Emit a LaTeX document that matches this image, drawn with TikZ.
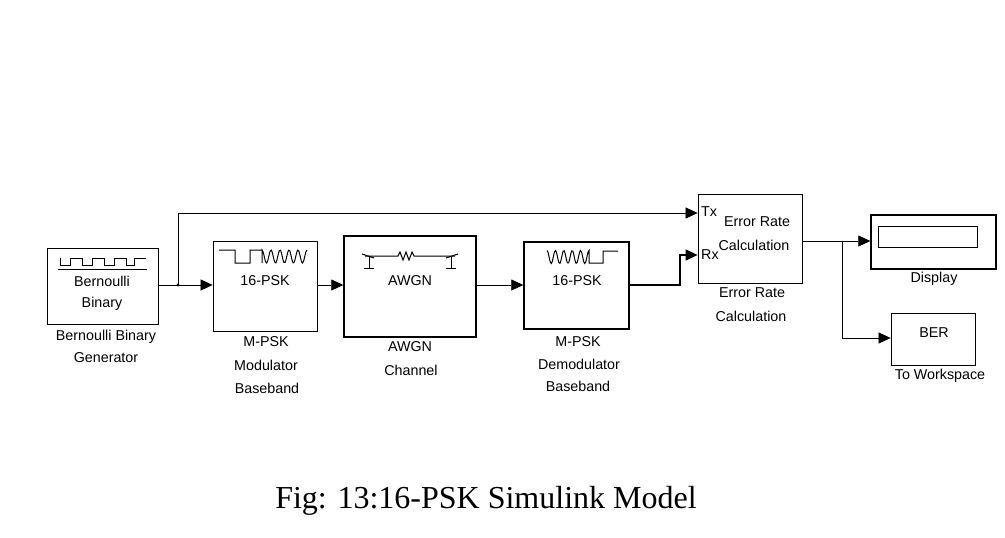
\documentclass[tikz,border=0pt]{standalone}
\usepackage{fontspec}
\setmainfont{Liberation Sans}
\newfontfamily\capfont{Liberation Serif}
\usetikzlibrary{arrows.meta}
\begin{document}
\begin{tikzpicture}[x=1pt,y=-1pt,
  blk/.style={draw,line width=0.8pt,inner sep=0pt},
  thk/.style={draw,line width=1.4pt,inner sep=0pt},
  txt/.style={font=\fontsize{14.3}{16}\selectfont,inner sep=0pt},
  con/.style={line width=0.7pt,-{Triangle[length=12pt,width=11pt]}},
  icon/.style={line width=1pt}]
\useasboundingbox (0,0) rectangle (1005,538);
\fill[white] (0,0) rectangle (1005,538);
% blocks
\node[blk,minimum width=111pt,minimum height=76pt] (bern) at (102.5,286) {};
\node[blk,minimum width=104pt,minimum height=90pt] (mod) at (265,286) {};
\node[thk,minimum width=132pt,minimum height=101pt] (awgn) at (410,286.5) {};
\node[thk,minimum width=105pt,minimum height=87pt] (dem) at (576.5,285.5) {};
\node[blk,minimum width=104pt,minimum height=89pt] (err) at (750,238.5) {};
\node[thk,minimum width=125pt,minimum height=54pt] (disp) at (933.5,242) {};
\node[blk,minimum width=99pt,minimum height=21pt] (dispin) at (927.5,236.5) {};
\node[blk,minimum width=84pt,minimum height=52pt] (ber) at (933,339) {};
% block texts
\node[txt] (t1) at (102,281) {Bernoulli};
\node[txt] (t2) at (102,304) {Binary};
\node[txt] (t3) at (106,337) {Bernoulli Binary};
\node[txt] (t4) at (106,358) {Generator};
\node[txt] (t5) at (265,281) {16-PSK};
\node[txt] (t6) at (266,342) {M-PSK};
\node[txt] (t7) at (266,365) {Modulator};
\node[txt] (t8) at (267,388) {Baseband};
\node[txt] (t9) at (410,281) {AWGN};
\node[txt] (t10) at (410,347) {AWGN};
\node[txt] (t11) at (411,370) {Channel};
\node[txt] (t12) at (577,281) {16-PSK};
\node[txt] (t13) at (578,342) {M-PSK};
\node[txt] (t14) at (579,364) {Demodulator};
\node[txt] (t15) at (578,386) {Baseband};
\node[txt,anchor=west] (tx) at (701,212) {Tx};
\node[txt,anchor=west] (rx) at (701,255) {Rx};
\node[txt] (t16) at (757,222) {Error Rate};
\node[txt] (t17) at (754,245) {Calculation};
\node[txt] (t18) at (752,293) {Error Rate};
\node[txt] (t19) at (751,316) {Calculation};
\node[txt] (t20) at (934,279) {Display};
\node[txt] (t21) at (934,333) {BER};
\node[txt] (t22) at (940,376) {To Workspace};
\node[inner sep=0pt,font=\capfont\fontsize{32}{36}\selectfont] (cap) at (486,501) {Fig: 13:16-PSK Simulink Model};
% icons
\draw[icon] (58,269) -- (147,269);
\draw[icon] (60,258) -- (60,265) -- (70,265) -- (70,258) -- (82,258) -- (82,265) -- (92,265) -- (92,258) -- (104,258) -- (104,265) -- (114,265) -- (114,258) -- (126,258) -- (126,265) -- (134,265) -- (134,258) -- (146,258);
\draw[icon] (219,250) -- (235,250) -- (235,263) -- (250,263) -- (250,250) -- (262,250) -- (262,263)
  -- plot[domain=0:5,samples=40,smooth] ({262+\x*9}, {256.5-6.5*cos(\x*360)});
\draw[icon] (365,256) -- (398,256) -- (400,252) -- (403,260) -- (406,252) -- (409,260) -- (412,252) -- (414,256) -- (455,256);
\draw[icon] (362,254) -- (374,258); \draw[icon] (369,257) -- (369,268); \draw[icon] (364,268) -- (374,268);
\draw[icon] (458,254) -- (446,258); \draw[icon] (451,257) -- (451,268); \draw[icon] (446,268) -- (456,268);
\draw[icon] plot[domain=0:5,samples=40,smooth] ({547+\x*8.4}, {257-6.5*cos(\x*360)}) -- (589,251) -- (589,263) -- (603,263) -- (603,251) -- (618,251);
% connectors
\coordinate (b1) at (178,285);
\coordinate (b2) at (178,213);
\coordinate (r1) at (680,285);
\coordinate (r2) at (680,255);
\coordinate (d1) at (842,241);
\coordinate (d2) at (842,338);
\draw[con] (bern.east |- 0,285) -- (mod.west |- 0,285);
\fill (b1) circle (1.6pt);
\draw[con] (b1) -- (b2) -- (err.west |- b2);
\draw[con] (mod.east |- 0,285) -- (awgn.west |- 0,285);
\draw[con] (awgn.east |- 0,285) -- (dem.west |- 0,285);
\draw[con,line width=1.2pt] (dem.east |- 0,285) -- (r1) -- (r2) -- (err.west |- r2);
\draw[con] (err.east |- d1) -- (disp.west |- d1);
\draw[con] (d1) -- (d2) -- (ber.west |- d2);
\end{tikzpicture}
\end{document}
